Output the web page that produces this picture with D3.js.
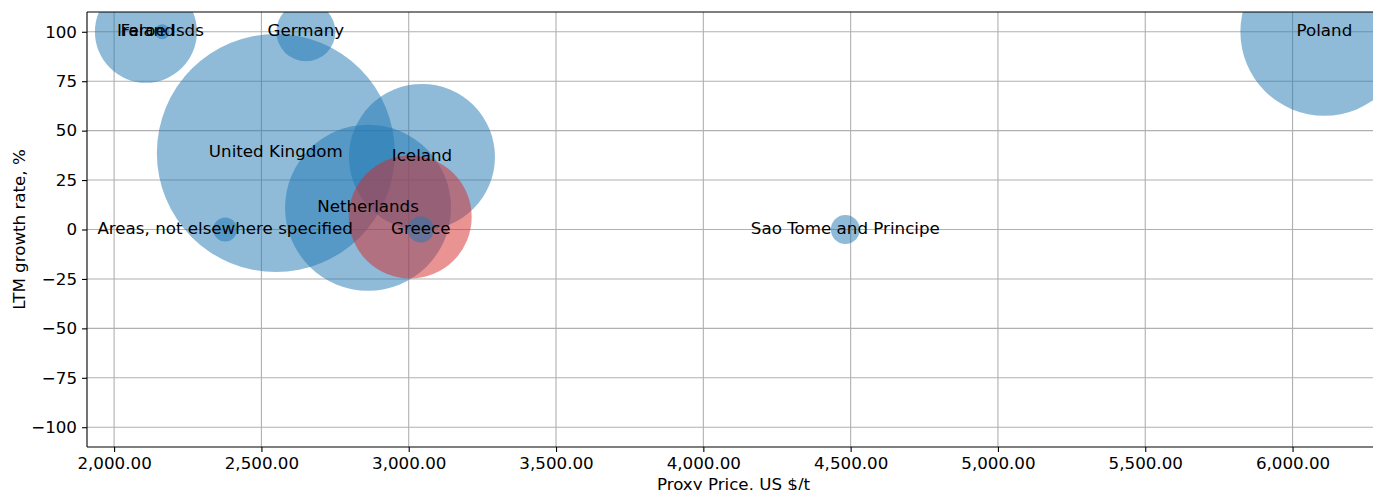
<!DOCTYPE html>
<html>
<head>
<meta charset="utf-8">
<script src="https://cdn.jsdelivr.net/npm/d3@7"></script>
<style>
  html, body { margin: 0; padding: 0; background: #fff; }
  svg { display: block; font-family: "DejaVu Sans", sans-serif; }
</style>
</head>
<body>
<svg id="chart" width="1373" height="490"></svg>
<script>
// ---- data ----
const countries = ["Ireland", "Faroe Isds", "Germany", "United Kingdom", "Areas, not elsewhere specified",
                   "Netherlands", "Iceland", "", "Greece", "Sao Tome and Principe", "Poland"];
const proxyPrice = [2108, 2163, 2651, 2549, 2377, 2862, 3045, 3005, 3041, 4482, 6108];
const growthRate = [100, 100, 100, 38.7, 0, 11, 36.7, 6.3, 0, 0, 100];
const volume = [2601, 55, 870, 14161, 144, 6889, 5329, 3782, 169, 210, 7056];
const highlighted = [false, false, false, false, false, false, false, true, false, false, false];
const xTicks = [2000, 2500, 3000, 3500, 4000, 4500, 5000, 5500, 6000];
const yTicks = [-100, -75, -50, -25, 0, 25, 50, 75, 100];
const xDomain = [1908, 6290];
const yDomain = [-110, 110];

// ---- layout ----
const W = 1373, H = 490;
const FS = 16.7;
const plot = { left: 87, right: 1378, top: 12, bottom: 447 };
const svg = d3.select("#chart");

const x = d3.scaleLinear().domain(xDomain).range([plot.left, plot.right]);
const y = d3.scaleLinear().domain(yDomain).range([plot.bottom, plot.top]);
const r = d3.scaleSqrt().domain([0, d3.max(volume)]).range([0, 119]);

const data = countries.map((c, i) => ({
  name: c, px: proxyPrice[i], g: growthRate[i], v: volume[i], hl: highlighted[i]
}));

svg.append("defs").append("clipPath").attr("id", "clip")
  .append("rect").attr("x", plot.left).attr("y", plot.top)
  .attr("width", plot.right - plot.left).attr("height", plot.bottom - plot.top);

// grid
const grid = svg.append("g");
grid.selectAll(".gx").data(xTicks).join("line")
  .attr("x1", d => x(d)).attr("x2", d => x(d))
  .attr("y1", plot.top).attr("y2", plot.bottom)
  .attr("stroke", "#b0b0b0").attr("stroke-width", 1.1);
grid.selectAll(".gy").data(yTicks).join("line")
  .attr("x1", plot.left).attr("x2", plot.right)
  .attr("y1", d => y(d)).attr("y2", d => y(d))
  .attr("stroke", "#b0b0b0").attr("stroke-width", 1.1);

// bubbles
const g = svg.append("g").attr("clip-path", "url(#clip)");
g.selectAll("circle").data(data).join("circle")
  .attr("cx", d => x(d.px)).attr("cy", d => y(d.g)).attr("r", d => r(d.v))
  .attr("fill", d => d.hl ? "#d62728" : "#1f77b4")
  .attr("fill-opacity", 0.5);

// labels
svg.append("g").selectAll("text").data(data.filter(d => d.name !== "")).join("text")
  .attr("x", d => x(d.px)).attr("y", d => y(d.g) - 1.5)
  .attr("text-anchor", "middle").attr("dominant-baseline", "central")
  .attr("font-size", FS).attr("fill", "#000")
  .text(d => d.name);

// axes
const fmt = d3.format(",.2f");
const xAxis = svg.append("g").attr("transform", `translate(0,${plot.bottom})`)
  .call(d3.axisBottom(x).tickValues(xTicks).tickFormat(fmt).tickSize(5).tickPadding(5));
const yAxis = svg.append("g").attr("transform", `translate(${plot.left},0)`)
  .call(d3.axisLeft(y).tickValues(yTicks).tickFormat(d => (d < 0 ? "\u2212" + Math.abs(d) : d)).tickSize(5).tickPadding(5));
[xAxis, yAxis].forEach(a => {
  a.select(".domain").remove();
  a.selectAll("text").attr("font-size", FS).attr("font-family", "DejaVu Sans, sans-serif").attr("fill", "#000");
  a.selectAll("line").attr("stroke", "#000").attr("stroke-width", 1.1);
});

// spines
svg.append("line").attr("x1", plot.left).attr("x2", plot.left).attr("y1", plot.top).attr("y2", plot.bottom)
  .attr("stroke", "#000").attr("stroke-width", 1.1);
svg.append("line").attr("x1", plot.left).attr("x2", plot.right).attr("y1", plot.bottom).attr("y2", plot.bottom)
  .attr("stroke", "#000").attr("stroke-width", 1.1);
svg.append("line").attr("x1", plot.left).attr("x2", plot.right).attr("y1", plot.top).attr("y2", plot.top)
  .attr("stroke", "#000").attr("stroke-width", 1.1);

// axis titles
svg.append("text").attr("x", (plot.left + 1372) / 2 + 4).attr("y", 490)
  .attr("text-anchor", "middle").attr("font-size", FS).attr("fill", "#000")
  .text("Proxy Price, US $/t");
svg.append("text").attr("transform", `translate(25,${(plot.top + plot.bottom) / 2}) rotate(-90)`)
  .attr("text-anchor", "middle").attr("font-size", FS).attr("fill", "#000")
  .text("LTM growth rate, %");
</script>
</body>
</html>
